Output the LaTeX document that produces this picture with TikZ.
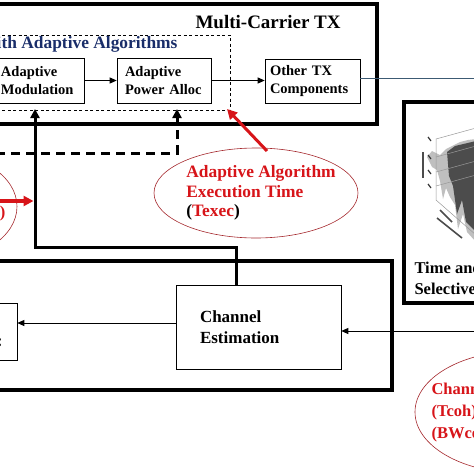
\documentclass[tikz,border=0pt]{standalone}
\usepackage{fontspec}
\setmainfont{Liberation Serif}
\usetikzlibrary{arrows.meta}

\definecolor{algoRed}{RGB}{215,20,25}
\definecolor{ellRed}{RGB}{165,40,45}
\definecolor{titleBlue}{RGB}{25,45,105}
\definecolor{lineSlate}{RGB}{60,90,115}

\newcommand{\bfsz}[2]{\fontsize{#1}{#2}\selectfont\bfseries}

\tikzset{
  blk/.style={draw, line width=0.6pt, fill=white, align=left, inner ysep=0pt,
    font=\bfsz{14.5pt}{18pt}},
  thickbox/.style={line width=3.5pt},
  thinarr/.style={line width=0.8pt, -{Triangle[length=7pt,width=6pt]}},
  fbarr/.style={line width=3pt, -{Triangle[length=9pt,width=9pt]}},
  fbdash/.style={line width=3pt, dash pattern=on 9pt off 6pt, -{Triangle[length=9pt,width=9pt]}},
  redarr/.style={draw=algoRed, line width=3.5pt, -{Triangle[length=10pt,width=10pt]}, algoRed},
  ellpath/.style={draw=ellRed, line width=0.6pt}
}

\begin{document}
\begin{tikzpicture}[x=1pt,y=-1pt]
\useasboundingbox (0,0) rectangle (474,474);
\clip (0,0) rectangle (474,474);

% transmitter side
\draw[thickbox] (-20,4) rectangle (377,124);
\node[anchor=west, font=\bfsz{19pt}{22pt}] (nTxTitle) at (192,22) {Multi-Carrier TX};
\draw[line width=0.8pt, dash pattern=on 3pt off 2.5pt] (-20,35) -- (230,35) -- (230,110) -- (-20,110);
\node[anchor=east, text=titleBlue, font=\bfsz{17.4pt}{19pt}] (nAlgTitle) at (181,44) {with Adaptive Algorithms};

\node[blk, text width=72pt, inner xsep=11pt, minimum height=45pt] (nAdMod) at (37,80.5) {Adaptive\\Modulation};
\node[blk, text width=78pt, inner xsep=8pt, minimum height=45pt] (nPowAlloc) at (164,80.5) {Adaptive\\Power Alloc};
\node[blk, text width=85pt, inner xsep=5pt, minimum height=44pt] (nOtherTx) at (312.5,81) {Other TX\\Components};

\draw[thinarr] (nAdMod.east) -- (nPowAlloc.west);
\draw[thinarr] (nPowAlloc.east) -- (nOtherTx.west |- nPowAlloc.east);
\coordinate (cTxOut) at (480,78);
\draw[lineSlate, line width=0.7pt] ([yshift=3pt]nOtherTx.east) -- (cTxOut);

% channel picture
\draw[thickbox, fill=white] (404,102) rectangle (495,303);
\fill[gray!50] (427,157) -- (432,151) -- (440,155) -- (446,149) -- (452,146) -- (460,142)
  -- (468,140) -- (476,139) -- (476,242) -- (467,232) -- (463,214) -- (458,229) -- (455,205)
  -- (450,197) -- (446,188) -- (443,199) -- (440,181) -- (437,170) -- (432,167) -- cycle;
\fill[black!70] (447,152) -- (455,146) -- (476,141) -- (476,232) -- (466,222) -- (462,200)
  -- (457,214) -- (453,186) -- (449,176) -- cycle;
\draw[gray!80, line width=0.5pt] (436,139) -- (436,200) -- (476,235);
\foreach \yy in {139,157,172,186}
{
    \draw[gray!80, line width=0.5pt] (436,\yy) -- (476,\yy-11);
    \draw[black!80, line width=1.2pt] (428,\yy-2) -- (431,\yy+2);
};
\draw[black!70, line width=2pt] (423,152) -- (423,178);
\draw[black!70, line width=1.6pt] (440,210) -- (452,222);
\draw[black!70, line width=1.6pt] (437,218) -- (462,238);
\node[anchor=north west, align=left, font=\bfsz{16.5pt}{21pt}] (nChanTxt) at (411,259)
  {Time and Frequency\\Selective Channel};

% receiver side
\draw[thickbox] (-20,261) rectangle (392,390);
\node[blk, text width=117pt, inner xsep=24pt, minimum height=84pt, font=\bfsz{17pt}{21pt}]
  (nChEst) at (258.5,327) {Channel\\Estimation};
\node[draw, line width=0.6pt, minimum width=47pt, minimum height=57pt] (nDemod) at (-6.5,331.5) {};
\node[anchor=east, font=\bfsz{17pt}{20pt}] (nDemodTxt) at (6,343) {:};

\coordinate (cChIn) at (480,331);
\draw[thinarr] (cChIn) -- (nChEst.east |- cChIn);
\coordinate (cEstOut) at (0,323);
\draw[thinarr] (nChEst.west |- cEstOut) -- (nDemod.east |- cEstOut);

% feedback paths
\coordinate (cDashBot) at (0,109);
\coordinate (cFbA) at (236,247);
\coordinate (cFbB) at (35,247);
\draw[fbarr] (nChEst.north -| cFbA) -- (cFbA) -- (cFbB) -- (cFbB |- cDashBot);
\coordinate (cDashL) at (-4,153);
\coordinate (cDashC) at (177,153);
\draw[fbdash] (cDashL) -- (cDashC) -- (cDashC |- cDashBot);

% execution time and coherence notes
\draw[ellpath] (-63,206.5) ellipse (80 and 54);
\node[anchor=east, text=algoRed, font=\bfsz{16.5pt}{20pt}] (nFbTxt) at (9,214) {)};
\coordinate (cRedL) at (-3,201);
\draw[redarr] (cRedL) -- ([xshift=-1.5pt]cRedL -| cFbB);

\draw[ellpath] (256,193) ellipse (102 and 45);
\node[align=left, font=\bfsz{17.4pt}{19.5pt}, text=algoRed] (nExec) at (261,193)
  {Adaptive Algorithm\\Execution Time\\\textcolor{black}{(}Texec\textcolor{black}{)}};
\coordinate (cExecTop) at (267,151);
\coordinate (cDashCorner) at (227,109);
\draw[redarr, line width=3pt] (cExecTop) -- (cDashCorner);

\draw[ellpath] (520,412) ellipse (105 and 61);
\node[anchor=west, align=left, font=\bfsz{16.5pt}{22pt}, text=algoRed] (nCoh) at (428,413)
  {Channel\\(Tcoh)\\(BWcoh)};

\end{tikzpicture}
\end{document}
